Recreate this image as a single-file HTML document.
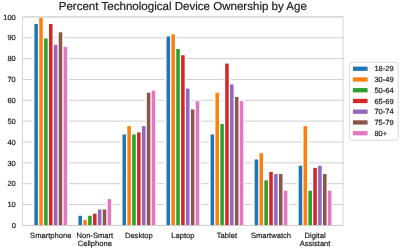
<!DOCTYPE html><html><head><meta charset="utf-8"><title>Percent Technological Device Ownership by Age</title>
<style>html,body{margin:0;padding:0;background:#fff;overflow:hidden}svg{display:block}text{text-rendering:geometricPrecision;font-family:"Liberation Sans",Arial,sans-serif;fill:#222;stroke:#222;stroke-width:0.2px}</style></head><body>
<svg width="400" height="251" viewBox="0 0 400 251">
<rect width="400" height="251" fill="#fff"/>
<line x1="22.4" x2="343.1" y1="225.40" y2="225.40" stroke="#cbcbcb" stroke-width="0.9"/>
<text x="15.8" y="228.10" font-size="7.5" text-anchor="end">0</text>
<line x1="22.4" x2="343.1" y1="204.55" y2="204.55" stroke="#cbcbcb" stroke-width="0.9"/>
<text x="15.8" y="207.25" font-size="7.5" text-anchor="end">10</text>
<line x1="22.4" x2="343.1" y1="183.70" y2="183.70" stroke="#cbcbcb" stroke-width="0.9"/>
<text x="15.8" y="186.40" font-size="7.5" text-anchor="end">20</text>
<line x1="22.4" x2="343.1" y1="162.85" y2="162.85" stroke="#cbcbcb" stroke-width="0.9"/>
<text x="15.8" y="165.55" font-size="7.5" text-anchor="end">30</text>
<line x1="22.4" x2="343.1" y1="142.00" y2="142.00" stroke="#cbcbcb" stroke-width="0.9"/>
<text x="15.8" y="144.70" font-size="7.5" text-anchor="end">40</text>
<line x1="22.4" x2="343.1" y1="121.15" y2="121.15" stroke="#cbcbcb" stroke-width="0.9"/>
<text x="15.8" y="123.85" font-size="7.5" text-anchor="end">50</text>
<line x1="22.4" x2="343.1" y1="100.30" y2="100.30" stroke="#cbcbcb" stroke-width="0.9"/>
<text x="15.8" y="103.00" font-size="7.5" text-anchor="end">60</text>
<line x1="22.4" x2="343.1" y1="79.45" y2="79.45" stroke="#cbcbcb" stroke-width="0.9"/>
<text x="15.8" y="82.15" font-size="7.5" text-anchor="end">70</text>
<line x1="22.4" x2="343.1" y1="58.60" y2="58.60" stroke="#cbcbcb" stroke-width="0.9"/>
<text x="15.8" y="61.30" font-size="7.5" text-anchor="end">80</text>
<line x1="22.4" x2="343.1" y1="37.75" y2="37.75" stroke="#cbcbcb" stroke-width="0.9"/>
<text x="15.8" y="40.45" font-size="7.5" text-anchor="end">90</text>
<line x1="22.4" x2="343.1" y1="16.90" y2="16.90" stroke="#cbcbcb" stroke-width="0.9"/>
<text x="15.8" y="19.60" font-size="7.5" text-anchor="end">100</text>
<rect x="32.66" y="23.06" width="6.95" height="201.94" fill="#fff"/>
<rect x="37.53" y="16.80" width="6.95" height="208.20" fill="#fff"/>
<rect x="42.41" y="37.65" width="6.95" height="187.35" fill="#fff"/>
<rect x="47.27" y="23.06" width="6.95" height="201.94" fill="#fff"/>
<rect x="52.14" y="43.91" width="6.95" height="181.09" fill="#fff"/>
<rect x="57.02" y="31.40" width="6.95" height="193.60" fill="#fff"/>
<rect x="61.88" y="45.99" width="6.95" height="179.01" fill="#fff"/>
<rect x="76.71" y="214.88" width="6.95" height="10.12" fill="#fff"/>
<rect x="81.58" y="219.04" width="6.95" height="5.96" fill="#fff"/>
<rect x="86.45" y="214.88" width="6.95" height="10.12" fill="#fff"/>
<rect x="91.32" y="212.79" width="6.95" height="12.21" fill="#fff"/>
<rect x="96.19" y="208.62" width="6.95" height="16.38" fill="#fff"/>
<rect x="101.06" y="208.62" width="6.95" height="16.38" fill="#fff"/>
<rect x="105.93" y="198.19" width="6.95" height="26.80" fill="#fff"/>
<rect x="120.76" y="133.56" width="6.95" height="91.44" fill="#fff"/>
<rect x="125.63" y="125.22" width="6.95" height="99.78" fill="#fff"/>
<rect x="130.50" y="133.56" width="6.95" height="91.44" fill="#fff"/>
<rect x="135.38" y="131.47" width="6.95" height="93.53" fill="#fff"/>
<rect x="140.25" y="125.22" width="6.95" height="99.78" fill="#fff"/>
<rect x="145.12" y="91.86" width="6.95" height="133.14" fill="#fff"/>
<rect x="149.98" y="89.78" width="6.95" height="135.22" fill="#fff"/>
<rect x="164.81" y="35.57" width="6.95" height="189.43" fill="#fff"/>
<rect x="169.68" y="33.48" width="6.95" height="191.52" fill="#fff"/>
<rect x="174.55" y="48.08" width="6.95" height="176.92" fill="#fff"/>
<rect x="179.42" y="54.33" width="6.95" height="170.67" fill="#fff"/>
<rect x="184.29" y="87.69" width="6.95" height="137.31" fill="#fff"/>
<rect x="189.16" y="108.54" width="6.95" height="116.46" fill="#fff"/>
<rect x="194.03" y="100.20" width="6.95" height="124.80" fill="#fff"/>
<rect x="208.86" y="133.56" width="6.95" height="91.44" fill="#fff"/>
<rect x="213.73" y="91.86" width="6.95" height="133.14" fill="#fff"/>
<rect x="218.60" y="123.14" width="6.95" height="101.86" fill="#fff"/>
<rect x="223.47" y="62.67" width="6.95" height="162.33" fill="#fff"/>
<rect x="228.34" y="83.52" width="6.95" height="141.48" fill="#fff"/>
<rect x="233.22" y="96.03" width="6.95" height="128.97" fill="#fff"/>
<rect x="238.09" y="100.20" width="6.95" height="124.80" fill="#fff"/>
<rect x="252.91" y="158.58" width="6.95" height="66.42" fill="#fff"/>
<rect x="257.79" y="152.33" width="6.95" height="72.67" fill="#fff"/>
<rect x="262.66" y="179.43" width="6.95" height="45.57" fill="#fff"/>
<rect x="267.53" y="171.09" width="6.95" height="53.91" fill="#fff"/>
<rect x="272.40" y="173.17" width="6.95" height="51.83" fill="#fff"/>
<rect x="277.27" y="173.17" width="6.95" height="51.83" fill="#fff"/>
<rect x="282.14" y="189.85" width="6.95" height="35.15" fill="#fff"/>
<rect x="296.96" y="164.84" width="6.95" height="60.16" fill="#fff"/>
<rect x="301.83" y="125.22" width="6.95" height="99.78" fill="#fff"/>
<rect x="306.70" y="189.85" width="6.95" height="35.15" fill="#fff"/>
<rect x="311.57" y="166.92" width="6.95" height="58.08" fill="#fff"/>
<rect x="316.44" y="164.84" width="6.95" height="60.16" fill="#fff"/>
<rect x="321.31" y="173.17" width="6.95" height="51.83" fill="#fff"/>
<rect x="326.19" y="189.85" width="6.95" height="35.15" fill="#fff"/>
<rect x="34.37" y="23.96" width="3.55" height="201.44" fill="#1f77b4"/>
<rect x="39.23" y="17.70" width="3.55" height="207.70" fill="#ff7f0e"/>
<rect x="44.11" y="38.55" width="3.55" height="186.85" fill="#2ca02c"/>
<rect x="48.98" y="23.96" width="3.55" height="201.44" fill="#d62728"/>
<rect x="53.84" y="44.81" width="3.55" height="180.59" fill="#9467bd"/>
<rect x="58.72" y="32.30" width="3.55" height="193.10" fill="#8c564b"/>
<rect x="63.59" y="46.89" width="3.55" height="178.51" fill="#e377c2"/>
<rect x="78.41" y="215.78" width="3.55" height="9.62" fill="#1f77b4"/>
<rect x="83.28" y="219.94" width="3.55" height="5.46" fill="#ff7f0e"/>
<rect x="88.15" y="215.78" width="3.55" height="9.62" fill="#2ca02c"/>
<rect x="93.02" y="213.69" width="3.55" height="11.71" fill="#d62728"/>
<rect x="97.89" y="209.52" width="3.55" height="15.88" fill="#9467bd"/>
<rect x="102.76" y="209.52" width="3.55" height="15.88" fill="#8c564b"/>
<rect x="107.63" y="199.09" width="3.55" height="26.30" fill="#e377c2"/>
<rect x="122.46" y="134.46" width="3.55" height="90.94" fill="#1f77b4"/>
<rect x="127.33" y="126.12" width="3.55" height="99.28" fill="#ff7f0e"/>
<rect x="132.20" y="134.46" width="3.55" height="90.94" fill="#2ca02c"/>
<rect x="137.07" y="132.38" width="3.55" height="93.03" fill="#d62728"/>
<rect x="141.94" y="126.12" width="3.55" height="99.28" fill="#9467bd"/>
<rect x="146.81" y="92.76" width="3.55" height="132.64" fill="#8c564b"/>
<rect x="151.68" y="90.68" width="3.55" height="134.72" fill="#e377c2"/>
<rect x="166.51" y="36.47" width="3.55" height="188.93" fill="#1f77b4"/>
<rect x="171.38" y="34.38" width="3.55" height="191.02" fill="#ff7f0e"/>
<rect x="176.25" y="48.98" width="3.55" height="176.42" fill="#2ca02c"/>
<rect x="181.12" y="55.23" width="3.55" height="170.17" fill="#d62728"/>
<rect x="185.99" y="88.59" width="3.55" height="136.81" fill="#9467bd"/>
<rect x="190.86" y="109.44" width="3.55" height="115.96" fill="#8c564b"/>
<rect x="195.73" y="101.10" width="3.55" height="124.30" fill="#e377c2"/>
<rect x="210.56" y="134.46" width="3.55" height="90.94" fill="#1f77b4"/>
<rect x="215.43" y="92.76" width="3.55" height="132.64" fill="#ff7f0e"/>
<rect x="220.30" y="124.04" width="3.55" height="101.36" fill="#2ca02c"/>
<rect x="225.17" y="63.57" width="3.55" height="161.83" fill="#d62728"/>
<rect x="230.04" y="84.42" width="3.55" height="140.98" fill="#9467bd"/>
<rect x="234.91" y="96.93" width="3.55" height="128.47" fill="#8c564b"/>
<rect x="239.78" y="101.10" width="3.55" height="124.30" fill="#e377c2"/>
<rect x="254.61" y="159.48" width="3.55" height="65.92" fill="#1f77b4"/>
<rect x="259.49" y="153.23" width="3.55" height="72.17" fill="#ff7f0e"/>
<rect x="264.36" y="180.33" width="3.55" height="45.07" fill="#2ca02c"/>
<rect x="269.23" y="171.99" width="3.55" height="53.41" fill="#d62728"/>
<rect x="274.10" y="174.07" width="3.55" height="51.33" fill="#9467bd"/>
<rect x="278.97" y="174.07" width="3.55" height="51.33" fill="#8c564b"/>
<rect x="283.84" y="190.75" width="3.55" height="34.65" fill="#e377c2"/>
<rect x="298.66" y="165.74" width="3.55" height="59.66" fill="#1f77b4"/>
<rect x="303.53" y="126.12" width="3.55" height="99.28" fill="#ff7f0e"/>
<rect x="308.40" y="190.75" width="3.55" height="34.65" fill="#2ca02c"/>
<rect x="313.27" y="167.82" width="3.55" height="57.58" fill="#d62728"/>
<rect x="318.14" y="165.74" width="3.55" height="59.66" fill="#9467bd"/>
<rect x="323.01" y="174.07" width="3.55" height="51.33" fill="#8c564b"/>
<rect x="327.88" y="190.75" width="3.55" height="34.65" fill="#e377c2"/>
<rect x="22.4" y="16.9" width="320.70" height="208.50" fill="none" stroke="#cfcfcf" stroke-width="0.8"/>
<text x="50.75" y="238.00" font-size="7.6" text-anchor="middle">Smartphone</text>
<text x="94.80" y="238.00" font-size="7.6" text-anchor="middle">Non-Smart</text>
<text x="94.80" y="246.40" font-size="7.6" text-anchor="middle">Cellphone</text>
<text x="138.85" y="238.00" font-size="7.6" text-anchor="middle">Desktop</text>
<text x="182.90" y="238.00" font-size="7.6" text-anchor="middle">Laptop</text>
<text x="226.95" y="238.00" font-size="7.6" text-anchor="middle">Tablet</text>
<text x="271.00" y="238.00" font-size="7.6" text-anchor="middle">Smartwatch</text>
<text x="315.05" y="238.00" font-size="7.6" text-anchor="middle">Digital</text>
<text x="315.05" y="246.40" font-size="7.6" text-anchor="middle">Assistant</text>
<text x="182.8" y="10.2" font-size="11.55" text-anchor="middle">Percent Technological Device Ownership by Age</text>
<rect x="349.6" y="62.2" width="48.6" height="78.1" rx="2.2" fill="#fff" stroke="#d0d0d0" stroke-width="0.8"/>
<rect x="353" y="66.60" width="14.6" height="4.3" fill="#1f77b4"/>
<text x="374.4" y="71.40" font-size="7.5">18-29</text>
<rect x="353" y="77.34" width="14.6" height="4.3" fill="#ff7f0e"/>
<text x="374.4" y="82.14" font-size="7.5">30-49</text>
<rect x="353" y="88.08" width="14.6" height="4.3" fill="#2ca02c"/>
<text x="374.4" y="92.88" font-size="7.5">50-64</text>
<rect x="353" y="98.82" width="14.6" height="4.3" fill="#d62728"/>
<text x="374.4" y="103.62" font-size="7.5">65-69</text>
<rect x="353" y="109.56" width="14.6" height="4.3" fill="#9467bd"/>
<text x="374.4" y="114.36" font-size="7.5">70-74</text>
<rect x="353" y="120.30" width="14.6" height="4.3" fill="#8c564b"/>
<text x="374.4" y="125.10" font-size="7.5">75-79</text>
<rect x="353" y="131.04" width="14.6" height="4.3" fill="#e377c2"/>
<text x="374.4" y="135.84" font-size="7.5">80+</text>
</svg></body></html>
